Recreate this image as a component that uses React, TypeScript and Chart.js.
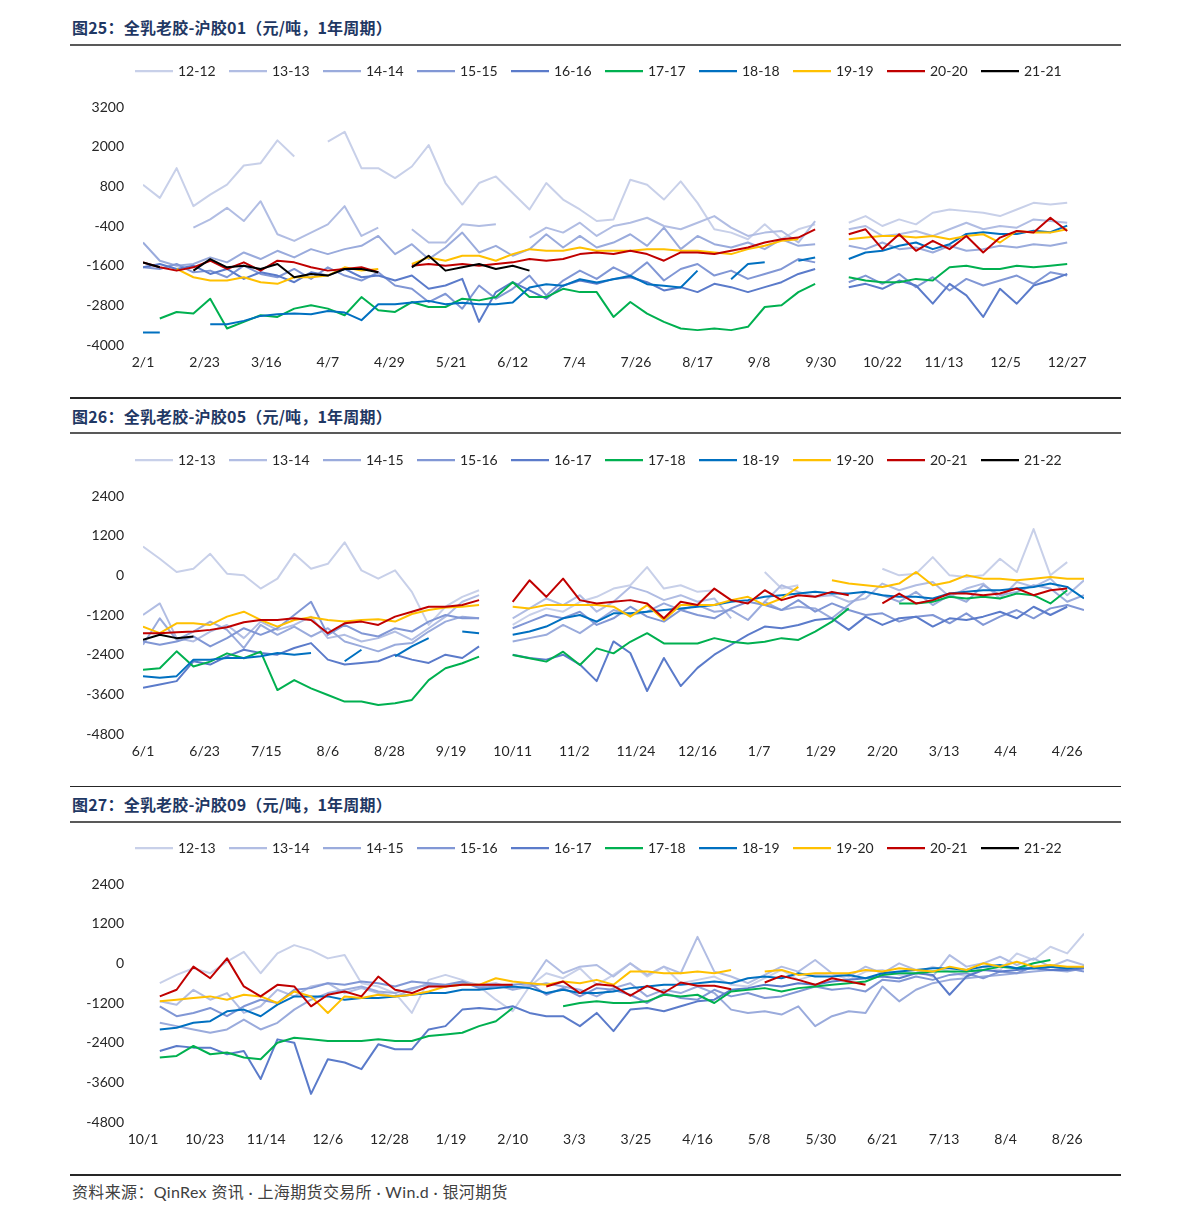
import React, { useEffect, useRef } from 'react';
import { Chart, registerables } from 'chart.js';

Chart.register(...registerables);

const _ = null;

// sampling grid: one value every DAY_STEP calendar days, x axis spans 0..X_MAX days
const DAY_STEP = 6;
const X_MAX = 336;
const TICK_EVERY = 22;

const P1_NAMES = ['12-12', '13-13', '14-14', '15-15', '16-16', '17-17', '18-18', '19-19', '20-20', '21-21'];
const P23_NAMES = ['12-13', '13-14', '14-15', '15-16', '16-17', '17-18', '18-19', '19-20', '20-21', '21-22'];
const SERIES_COLORS = ['#c8d0e9', '#b1bde3', '#9aabdc', '#8197d5', '#5b7bca', '#00b050', '#0070c0', '#ffc000', '#c00000', '#000000'];

const P1_X_LABELS = ['2/1', '2/23', '3/16', '4/7', '4/29', '5/21', '6/12', '7/4', '7/26', '8/17', '9/8', '9/30', '10/22', '11/13', '12/5', '12/27'];
const P2_X_LABELS = ['6/1', '6/23', '7/15', '8/6', '8/28', '9/19', '10/11', '11/2', '11/24', '12/16', '1/7', '1/29', '2/20', '3/13', '4/4', '4/26'];
const P3_X_LABELS = ['10/1', '10/23', '11/14', '12/6', '12/28', '1/19', '2/10', '3/3', '3/25', '4/16', '5/8', '5/30', '6/21', '7/13', '8/4', '8/26'];

const P1_Y_RANGE = [-4000, 3200];
const P23_Y_RANGE = [-4800, 2400];
const Y_STEP = 1200;

// ---------- 图25 沪胶01 ----------
const P1_1212 = [
  850, 450, 1350, 200, 550, 850, 1430, 1500, 2190, 1700,
  _, 2150, 2450, 1350, 1350, 1050, 1400, 2050, 900, 250,
  900, 1100, 600, 100, 900, 400, 100, -250, -200, 1000,
  850, 400, 950, 300, -500, -600, -800, -350, -800, -500,
  -350, _, -300, -100, -400, -200, -350, 0, 100, 50,
  0, -100, 100, 300, 250, 300,
];
const P1_1313 = [
  _, _, _, -450, -200, 150, -250, 350, -650, -850,
  -600, -350, 200, -700, -450, _, -500, -900, -900, -350,
  -400, -350, _, -750, -450, -600, -300, -700, -400, -300,
  -150, -400, -500, -300, -100, -450, -700, -600, -550, -900,
  -250, _, -500, -400, -700, -650, -550, -700, -500, -300,
  -500, -400, -450, -200, -250, -300,
];
const P1_1414 = [
  -900, -1450, -1600, -1550, -1350, -1500, -1200, -1400, -1150, -1350,
  -1100, -1250, -1100, -1000, -700, -1250, -950, -1400, -1050, -600,
  -1200, -1000, -1300, -1100, -650, -1050, -700, -1050, -900, -650,
  -1000, -450, -1100, -700, -950, -1050, -900, -1100, -800, -1000,
  -950, _, -1000, -1100, -900, -1100, -1050, -1200, -1000, -1150,
  -1100, -1000, -1050, -950, -1000, -900,
];
const P1_1515 = [
  -1650, -1700, -1550, -1800, -1750, -1950, -1600, -1850, -1950, -1700,
  -2000, -1650, -1900, -2050, -1800, -2200, -2300, -2700, -2450, -2900,
  -2200, -2600, -2300, -1900, -2500, -2050, -1750, -2000, -1650, -1900,
  -1500, -2050, -1700, -1550, -1900, -1750, -2000, -1850, -1700, -1400,
  -1500, _, -2100, -1900, -2150, -1850, -2250, -1950, -2350, -2000,
  -2200, -2050, -1900, -2150, -1800, -1900,
];
const P1_1616 = [
  -1650, -1550, -1700, -1600, -1850, -1700, -2000, -1800, -1900, -2100,
  -1800, -1900, -1700, -1950, -1900, -2050, -1900, -2300, -2200, -2000,
  -3300, -2400, -2100, -2350, -2600, -2200, -2050, -2150, -2000, -1950,
  -2100, -2350, -2250, -2400, -2150, -2250, -2400, -2250, -2100, -1850,
  -1700, _, -2250, -2150, -2300, -2050, -2200, -2750, -2150, -2500,
  -3150, -2300, -2750, -2200, -2050, -1850,
];
const P1_1717 = [
  _, -3200, -3000, -3050, -2600, -3500, -3300, -3100, -3150, -2900,
  -2800, -2900, -3100, -2550, -2950, -3000, -2700, -2850, -2850, -2600,
  -2650, -2550, -2100, -2550, -2550, -2300, -2400, -2400, -3150, -2700,
  -3050, -3300, -3500, -3550, -3500, -3550, -3450, -2850, -2800, -2400,
  -2150, _, -1950, -2050, -2100, -2100, -2000, -2050, -1650, -1600,
  -1700, -1700, -1600, -1650, -1600, -1550,
];
const P1_1818 = [
  -3620, -3620, _, _, -3370, -3370, -3270, -3120, -3070, -3050,
  -3070, -2970, -3020, -3250, -2765, -2770, -2715, -2665, -2770, -2720,
  -2765, -2770, -2715, -2260, -2160, -2210, -2010, -2110, -2010, -1905,
  -2160, -2210, -2260, -1750, _, -2010, -1550, -1500, _, -1450,
  -1350, _, -1400, -1200, -1150, -1000, -900, -1100, -950, -640,
  -590, -640, -640, -540, -590, -390,
];
const P1_1919 = [
  _, _, -1700, -1950, -2050, -2050, -1950, -2100, -2150, -1950,
  -1950, -1900, -1650, -1750, -1700, _, -1550, -1350, -1450, -1300,
  -1300, -1450, -1250, -1100, -1150, -1150, -1050, -1150, -1150, -1150,
  -1100, -1100, -1150, -1150, -1200, -1250, -1100, -1000, -850, -800,
  _, _, -800, -750, -700, -700, -750, -700, -800, -700,
  -650, -900, -550, -600, -600, -500,
];
const P1_2020 = [
  -1500, -1650, -1750, -1650, -1450, -1700, -1500, -1750, -1450, -1500,
  -1650, -1750, -1700, -1650, -1800, _, -1600, -1550, -1600, -1550,
  -1600, -1550, -1500, -1400, -1450, -1400, -1250, -1200, -1250, -1150,
  -1250, -1450, -1200, -1200, -1250, -1150, -1050, -900, -800, -750,
  -500, _, -650, -500, -1100, -650, -1150, -850, -1100, -700,
  -1200, -750, -550, -600, -150, -550,
];
const P1_2121 = [
  -1500, -1650, _, -1750, -1400, -1650, -1600, -1700, -1550, -1950,
  -1850, -1900, -1700, -1700, -1800, _, -1650, -1300, -1750, -1650,
  -1550, -1700, -1600, -1750,
];

// ---------- 图26 沪胶05 ----------
const P2_1213 = [
  870, 500, 100, 200, 650, 50, 0, -400, -100, 650,
  200, 350, 1000, 150, -100, 150, -500, -1500, -950, -650,
  -450, _, -1500, -1200, -1000, -1100, -800, -650, -400, -300,
  250, -400, -300, -500, -450, _, _, 100, -400, -300,
  _, _, _, _, 200, 0, 50, 550, 0, -50,
  0, 500, 100, 1400, 0, 400,
];
const P2_1314 = [
  -1200, -850, -1900, -2000, -1700, -1500, -1900, -1400, -1650, -1500,
  -1250, -1900, -1800, -2000, -1900, -1700, -1950, -1600, -1250, -800,
  -600, _, -1300, -1000, -700, -900, -600, -1100, -800, -350,
  -500, -750, -600, -800, -700, -1300, _, -800, -300, -500,
  -650, -600, -800, -700, -250, -450, -300, -200, -650, -400,
  -250, -700, -200, -350, -100, -600, -150,
];
const P2_1415 = [
  -2100, -1300, -1950, -1700, -1400, -1650, -2200, -1500, -1800, -1550,
  -1850, -1600, -2000, -2150, -2300, -2100, -2050, -1700, -1400, -1250,
  -1300, _, -2000, -1900, -1800, -1500, -1750, -1400, -1050, -1200,
  -1100, -850, -1050, -900, -1100, -1050, -1350, -800, -1050, -950,
  -1000, -1300, -900, -500, -600, -800, -500, -900, -600, -800,
  -300, -600, -500, -300, -400, -800, -600,
];
const P2_1516 = [
  -2000, -2100, -2000, -1850, -2150, -1900, -1600, -1800, -1600, -1200,
  -800, -1800, -1500, -1750, -1850, -1600, -1700, -1400, -1200, -1300,
  -1300, _, -1600, -1400, -1200, -1300, -1100, -1500, -1300, -950,
  -1250, -1400, -1050, -1200, -1300, -1000, -800, -900, -1050, -750,
  -1100, -850, -1050, -1200, -1150, -1400, -1250, -1200, -1450, -1150,
  -1500, -1250, -1050, -1300, -1000, -900, -1050,
];
const P2_1617 = [
  -3400, -3300, -3200, -2600, -2700, -2450, -2250, -2350, -2400, -2200,
  -2050, -2550, -2700, -2650, -2600, -2400, -2550, -2650, -2400, -2500,
  -2150, _, -2400, -2500, -2550, -2400, -2700, -3200, -2000, -2350,
  -3500, -2500, -3350, -2800, -2400, -2100, -1800, -1550, -1600, -1500,
  -1350, -1300, -1650, -1250, -1500, -1300, -1250, -1550, -1300, -1350,
  -1250, -1100, -1300, -950, -1200, -950,
];
const P2_1718 = [
  -2860, -2810, -2300, -2760, -2610, -2360, -2510, -2310, -3470, -3170,
  -3420, -3620, -3820, -3820, -3920, -3870, -3770, -3170, -2810, -2660,
  -2460, _, -2410, -2510, -2610, -2310, -2710, -2210, -2360, -2010,
  -1750, -2060, -2060, -2060, -1900, -2010, -2060, -2010, -1900, -1955,
  -1700, -1400, -1000, _, _, -850, -850, -800, -650, -700,
  -650, -700, -550, -600, -850, -450,
];
const P2_1819 = [
  -3050, -3100, -3050, -2550, -2550, -2500, -2500, -2450, -2350, -2400,
  -2350, _, -2600, -2250, _, -2450, -2150, -1900, _, -1700,
  -1750, _, -1800, -1700, -1550, -1300, -1200, -1400, -1150, -1150,
  -1100, -1050, -1000, -950, -900, -800, -750, -650, -600, -550,
  -500, -550, -550, -500, -600, -650, -650, -700, -550, -500,
  -450, -450, -400, -350, -250, -350, -700,
];
const P2_1920 = [
  -1550, -1750, -1450, -1450, -1500, -1250, -1100, -1350, -1550, -1350,
  -1270, -1350, -1400, -1350, -1330, -1400, -1170, -1050, -970, -950,
  -900, _, -950, -1000, -900, -900, -900, -900, -950, -1250,
  -900, -1350, -900, -900, -900, -750, -650, -900, -700, -350,
  _, -150, -250, -300, -350, -250, 100, -300, -200, 0,
  -100, -100, -150, -100, -50, -100, -100,
];
const P2_2021 = [
  -1750, -1750, -1720, -1700, -1650, -1570, -1420, -1350, -1350, -1300,
  -1350, -1750, -1450, -1400, -1500, -1250, -1100, -950, -950, -900,
  -750, _, -800, -150, -650, -100, -750, -850, -800, -750,
  -850, -1300, -800, -900, -400, -750, -850, -450, -750, -600,
  -650, -500, -600, _, -850, -550, -850, -750, -550, -550,
  -600, -550, -400, -600, -450, -400,
];
const P2_2122 = [-1950, -1800, -1900, -1850];

// ---------- 图27 沪胶09 ----------
const P3_1213 = [
  _, -600, -350, -150, -300, 50, 350, -300, 300, 550,
  400, 150, 250, -600, -700, -900, -1500, -500, -350, -500,
  -700, -1100, -1450, -700, -300, -450, -150, -650, -350, 0,
  -400, -100, -600, -500, -400, -650, -700, -450, -200, -500,
  -350, -300, -500, -250, -200, -350, -300, -100, -250, -400,
  -100, -200, 300, 100, 500, 300, 900,
];
const P3_1314 = [
  _, -1150, -1250, -800, -1100, -900, -1500, -1300, -800, -1000,
  -700, -600, -900, -750, -900, -1000, -800, -600, -700, -550,
  -650, -600, -750, -650, 100, -300, -100, -50, -400, 0,
  -350, -100, -300, 800, -250, -400, -600, -350, -100, -250,
  100, -300, -400, -100, -300, 0, -200, -400, 250, -100,
  0, 200, -50, 150, -100, 100, -50,
];
const P3_1415 = [
  _, -1800, -1900, -2000, -2100, -2000, -1700, -2000, -1800, -1400,
  -1100, -900, -800, -700, -850, -900, -750, -650, -700, -600,
  -700, -650, -800, -700, -600, -700, -800, -1000, -750, -600,
  -1000, -800, -900, -700, -900, -1400, -1500, -1450, -1550, -1300,
  -1900, -1600, -1450, -1500, -700, -1150, -800, -600, -500, -450,
  -400, -350, -300, -250, -200, -250, -150,
];
const P3_1516 = [
  _, -1300, -1600, -1500, -1350, -1600, -1300, -1100, -1200, -800,
  -750, -600, -650, -550, -600, -700, -550, -600, -650, -550,
  -750, -700, -650, -600, -950, -750, -1000, -750, -800, -950,
  -1200, -900, -1050, -1100, -800, -1000, -900, -1050, -1000, -850,
  -700, -800, -750, -850, -500, -550, -400, -500, -350, -300,
  -450, -250, -300, -100, -200, -150, -250,
];
const P3_1617 = [
  _, -2650, -2500, -2550, -2550, -2750, -2650, -3500, -2300, -2400,
  -3950, -2900, -3000, -3200, -2450, -2600, -2600, -2000, -1900, -1400,
  -1350, -1400, -1300, -1500, -1600, -1600, -1900, -1500, -2050, -1400,
  -1350, -1450, -1300, -1150, -1100, -800, -750, -650, -700, -600,
  -650, -550, -500, -450, -400, -450, -300, -350, -950, -400,
  -200, -250, -200, -150, -200, -200, -150,
];
const P3_1718 = [
  _, -2850, -2800, -2500, -2750, -2700, -2850, -2900, -2400, -2250,
  -2300, -2350, -2350, -2350, -2300, -2350, -2350, -2200, -2150, -2100,
  -1900, -1750, -1350, _, _, -1300, -1200, -1150, -1200, -1200,
  -1150, -950, -1000, -950, -1200, -850, -800, -750, -850, -750,
  -700, -650, -600, -550, -350, -300, -300, -250, -250, -250,
  -200, -100, -150, 0, 100,
];
const P3_1819 = [
  _, -2000, -1950, -1800, -1750, -1450, -1400, -1600, -1250, -1000,
  -1000, -1000, -1100, -1050, -1050, -1000, -950, -900, -900, -800,
  -800, -750, -700, -750, -900, -800, -900, -900, -850, -750,
  -700, -650, -650, -600, -550, -600, -450, -400, -450, -300,
  -400, -400, -350, -450, -300, -250, -200, -150, -150, -200,
  -100, -50, -150, -150, -100, -150, -100,
];
const P3_1920 = [
  _, -1150, -1100, -1050, -1000, -1100, -950, -1000, -1200, -850,
  -1000, -1500, -1000, -1050, -950, -1000, -950, -850, -700, -650,
  -650, -450, -550, -600, -650, -550, -600, -500, -650, -250,
  -250, -300, -300, -250, -300, -200, _, -250, -200, -350,
  -300, -300, -300, -200, -250, -150, -200, -250, -100, -200,
  0, -100, 50, -100, -50, -100, -100,
];
const P3_2021 = [
  _, -1000, -800, -100, -450, 150, -700, -1000, -650, -700,
  -1300, -950, -850, -1000, -400, -800, -900, -700, -700, -650,
  -650, -650, -650, _, -700, -550, -900, -630, -680, -980,
  -680, -890, -580, -680, -680, -785, _, -580, -380, -500,
  -650, -450, -550, -650,
];
const P3_2122: (number | null)[] = [];

const PANEL_OFFSETS = [0, 388.5, 777];
const PANEL_TITLES = [
  '图25：全乳老胶-沪胶01（元/吨，1年周期）',
  '图26：全乳老胶-沪胶05（元/吨，1年周期）',
  '图27：全乳老胶-沪胶09（元/吨，1年周期）',
];
const FOOTNOTE = '资料来源：QinRex 资讯 · 上海期货交易所 · Win.d · 银河期货';

const PANELS = [
  {
    names: P1_NAMES,
    series: [P1_1212, P1_1313, P1_1414, P1_1515, P1_1616, P1_1717, P1_1818, P1_1919, P1_2020, P1_2121],
    xLabels: P1_X_LABELS,
    yRange: P1_Y_RANGE,
  },
  {
    names: P23_NAMES,
    series: [P2_1213, P2_1314, P2_1415, P2_1516, P2_1617, P2_1718, P2_1819, P2_1920, P2_2021, P2_2122],
    xLabels: P2_X_LABELS,
    yRange: P23_Y_RANGE,
  },
  {
    names: P23_NAMES,
    series: [P3_1213, P3_1314, P3_1415, P3_1516, P3_1617, P3_1718, P3_1819, P3_1920, P3_2021, P3_2122],
    xLabels: P3_X_LABELS,
    yRange: P23_Y_RANGE,
  },
];

const TEXT_COLOR = '#262626';
const LATIN_FONT = "Lato, 'Noto Sans', sans-serif";

const CANVAS_W = 1051;
const CANVAS_H = 330;

function makeLegendPlugin(names: string[]) {
  return {
    id: 'lineLegend',
    afterDraw(chart: any) {
      const ctx = chart.ctx as CanvasRenderingContext2D;
      ctx.save();
      ctx.font = `14px ${LATIN_FONT}`;
      ctx.textBaseline = 'middle';
      ctx.textAlign = 'left';
      names.forEach((name, k) => {
        const x0 = 65 + k * 94;
        const y = 21;
        ctx.strokeStyle = SERIES_COLORS[k];
        ctx.lineWidth = 2.25;
        ctx.beginPath();
        ctx.moveTo(x0, y);
        ctx.lineTo(x0 + 38, y);
        ctx.stroke();
        ctx.fillStyle = TEXT_COLOR;
        ctx.fillText(name, x0 + 43, y + 0.5);
      });
      ctx.restore();
    },
  };
}

function Panel({ index }: { index: number }) {
  const ref = useRef<HTMLCanvasElement>(null);
  const panel = PANELS[index];
  const off = PANEL_OFFSETS[index];

  useEffect(() => {
    const canvas = ref.current;
    if (!canvas) return;
    const datasets = panel.series.map((vals, k) => ({
      label: panel.names[k],
      data: vals.map((v, i) => ({ x: i * DAY_STEP, y: v })),
      borderColor: SERIES_COLORS[k],
      backgroundColor: SERIES_COLORS[k],
      borderWidth: 2,
      pointRadius: 0,
      pointHoverRadius: 0,
      tension: 0,
      spanGaps: false,
      borderJoinStyle: 'round' as const,
      order: 10 - k,
    }));
    const chart = new Chart(canvas, {
      type: 'line',
      data: { datasets },
      options: {
        animation: false,
        responsive: false,
        events: [],
        layout: { padding: { top: 57, left: 0, right: 37, bottom: 0 } },
        plugins: { legend: { display: false }, tooltip: { enabled: false }, title: { display: false } },
        scales: {
          x: {
            type: 'linear',
            min: 0,
            max: X_MAX,
            grid: { display: false, drawTicks: false },
            border: { display: false },
            afterBuildTicks: (axis: any) => {
              axis.ticks = panel.xLabels.map((lbl, i) => ({ value: i * TICK_EVERY }));
            },
            afterFit: (axis: any) => {
              axis.height = 35;
            },
            ticks: {
              autoSkip: false,
              maxRotation: 0,
              minRotation: 0,
              padding: 9,
              color: TEXT_COLOR,
              font: { family: LATIN_FONT, size: 14 },
              callback: (v: any) => panel.xLabels[Math.round(Number(v) / TICK_EVERY)] ?? '',
            },
          },
          y: {
            type: 'linear',
            min: panel.yRange[0],
            max: panel.yRange[1],
            grid: { display: false, drawTicks: false },
            border: { display: false },
            afterFit: (axis: any) => {
              axis.width = 73;
            },
            ticks: {
              stepSize: Y_STEP,
              padding: 19,
              color: TEXT_COLOR,
              font: { family: LATIN_FONT, size: 14 },
              callback: (v: any) => String(v),
            },
          },
        },
      },
      plugins: [makeLegendPlugin(panel.names)],
    });
    return () => chart.destroy();
  }, []);

  return (
    <>
      {index > 0 && (
        <div style={{ position: 'absolute', left: 70, top: off + 8.75, width: 1051, height: 1.5, background: '#262626' }} />
      )}
      <div
        style={{
          position: 'absolute',
          left: 72,
          top: off + 16,
          height: 22,
          lineHeight: '22px',
          fontFamily: "'Noto Sans CJK SC', sans-serif",
          fontWeight: 700,
          fontSize: 16,
          letterSpacing: '0.2px',
          color: '#1f3864',
          whiteSpace: 'nowrap',
        }}
      >
        {PANEL_TITLES[index]}
      </div>
      <div style={{ position: 'absolute', left: 70, top: off + 43.5, width: 1051, height: 2, background: '#595959' }} />
      <canvas
        ref={ref}
        width={CANVAS_W}
        height={CANVAS_H}
        style={{ position: 'absolute', left: 70, top: off + 50, width: CANVAS_W, height: CANVAS_H }}
      />
    </>
  );
}

export default function App() {
  return (
    <div style={{ position: 'absolute', left: 0, top: 0, width: 1191, height: 1220, background: '#ffffff' }}>
      {PANELS.map((p, i) => (
        <Panel key={i} index={i} />
      ))}
      <div style={{ position: 'absolute', left: 70, top: 1174.25, width: 1051, height: 1.5, background: '#262626' }} />
      <div
        style={{
          position: 'absolute',
          left: 72,
          top: 1181,
          height: 22,
          lineHeight: '22px',
          fontFamily: "Lato, 'Noto Sans CJK SC', sans-serif",
          fontSize: 16,
          letterSpacing: '0.35px',
          color: '#404040',
          whiteSpace: 'nowrap',
        }}
      >
        {FOOTNOTE}
      </div>
    </div>
  );
}
